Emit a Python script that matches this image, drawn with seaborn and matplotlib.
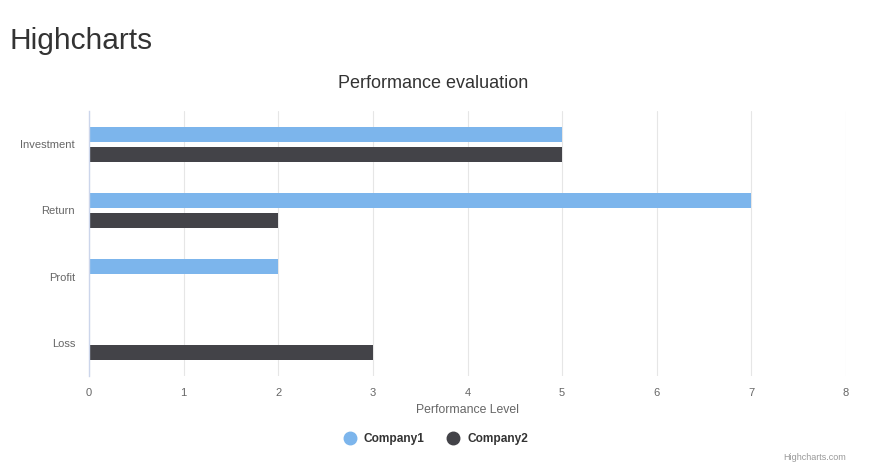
import matplotlib
matplotlib.use("Agg")
import matplotlib.pyplot as plt
from matplotlib.lines import Line2D
import seaborn as sns
import pandas as pd

categories = ["Investment", "Return", "Profit", "Loss"]
company1 = [5, 7, 2, 0]
company2 = [5, 2, 0, 3]
series_names = ["Company1", "Company2"]
colors = ["#7cb5ec", "#434348"]

df = pd.DataFrame({
    "category": categories * 2,
    "value": company1 + company2,
    "series": [series_names[0]] * 4 + [series_names[1]] * 4,
})

sns.set_style("white")
plt.rcParams["font.family"] = ["Liberation Sans", "DejaVu Sans"]

fig = plt.figure(figsize=(8.77, 4.74), dpi=100)
ax = fig.add_axes([89 / 877, 1 - 376 / 474, (846 - 89) / 877, (376 - 111) / 474])

sns.barplot(data=df, x="value", y="category", hue="series", order=categories,
            hue_order=series_names, palette=colors, orient="h",
            width=0.6, gap=0.24, saturation=1, linewidth=0, legend=False, ax=ax)

ax.set_xlim(0, 8)
ax.set_ylim(3.5, -0.5)
ax.set_xticks(range(9))
ax.grid(axis="x", color="#e6e6e6", linewidth=0.8)
ax.set_axisbelow(True)
for side in ["top", "right", "bottom"]:
    ax.spines[side].set_visible(False)
ax.spines["left"].set_color("#ccd6eb")
ax.spines["left"].set_linewidth(1)
ax.spines["left"].set_zorder(3)
ax.tick_params(axis="both", length=0, labelsize=8, colors="#666666")
ax.tick_params(axis="x", pad=9)
ax.tick_params(axis="y", pad=10)
ax.set_ylabel("")
ax.set_xlabel("Performance Level", fontsize=8.8, color="#666666", labelpad=4)

fig.text(9 / 877, 1 - 41 / 474, "Highcharts", fontsize=21.5, color="#333333", va="center", ha="left")
fig.text(433 / 877, 1 - 84 / 474, "Performance evaluation", fontsize=13, color="#333333",
         va="center", ha="center")
fig.text(846 / 877, 1 - 458 / 474, "Highcharts.com", fontsize=6.5, color="#999999",
         va="center", ha="right")

handles = [Line2D([], [], marker="o", linestyle="", markersize=9, color=c) for c in colors]
fig.legend(handles, series_names, loc="center", bbox_to_anchor=(433 / 877, 1 - 439 / 474),
           ncol=2, frameon=False, prop={"weight": "bold", "size": 8.6},
           handletextpad=0.15, columnspacing=1.4, labelcolor="#333333")

fig.savefig("out.png", dpi=100, facecolor="white")
